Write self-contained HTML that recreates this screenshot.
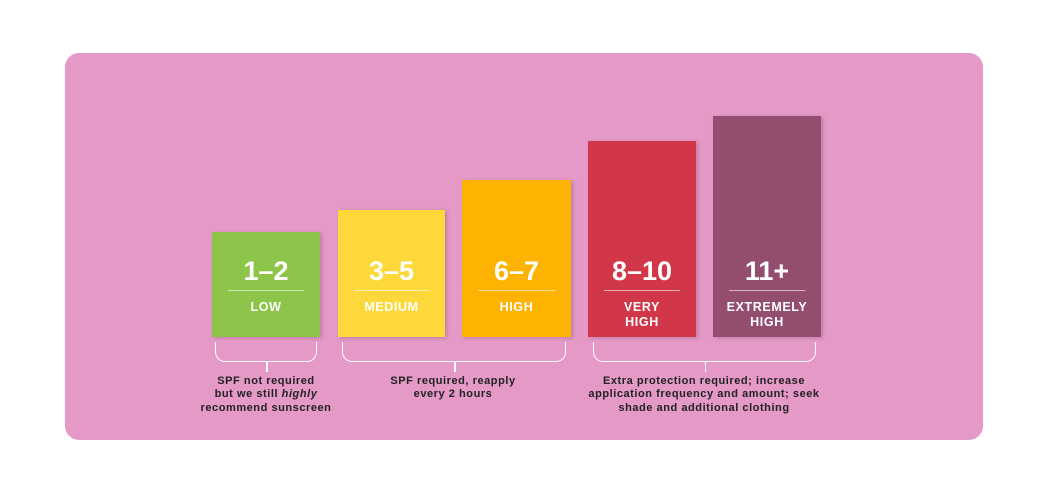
<!DOCTYPE html><html><head><style>
body{margin:0;width:1048px;height:492px;background:#fff;position:relative;font-family:"Liberation Sans",sans-serif;overflow:hidden}
.card{position:absolute;left:65px;top:53px;width:918px;height:387px;background:#e599c7;border-radius:14px}
.bar{position:absolute;color:#fff;text-align:center;font-weight:bold;box-shadow:2px 1px 4px rgba(0,0,0,.18)}
.num{position:absolute;left:0;right:0;font-size:27px;top:0}
.ln{position:absolute;left:16px;right:16px;height:1px;background:rgba(255,255,255,.6)}
.lab{position:absolute;left:0;right:0;font-size:12.5px;line-height:15px;letter-spacing:0.6px}
.br{position:absolute;top:342px;height:19px;border:1.5px solid #fff;border-top:none;border-radius:0 0 10px 10px}
.br:after{content:"";position:absolute;left:50%;top:19px;width:1.5px;height:11px;background:#fff}
.t{position:absolute;text-align:center;font-size:11px;font-weight:bold;line-height:13.3px;color:#222;letter-spacing:0.55px}
</style></head><body>
<div class="card"></div>
<div class="bar" style="left:212px;width:108px;top:232px;height:105px;background:#8dc44a"><div class="num" style="top:24px">1–2</div><div class="ln" style="top:58px"></div><div class="lab" style="top:68px">LOW</div></div>
<div class="bar" style="left:338px;width:107px;top:210px;height:127px;background:#fdd83a"><div class="num" style="top:46px">3–5</div><div class="ln" style="top:80px"></div><div class="lab" style="top:90px">MEDIUM</div></div>
<div class="bar" style="left:462px;width:109px;top:180px;height:157px;background:#feb201"><div class="num" style="top:76px">6–7</div><div class="ln" style="top:110px"></div><div class="lab" style="top:120px">HIGH</div></div>
<div class="bar" style="left:588px;width:108px;top:141px;height:196px;background:#d13649"><div class="num" style="top:115px">8–10</div><div class="ln" style="top:149px"></div><div class="lab" style="top:159px">VERY<br>HIGH</div></div>
<div class="bar" style="left:713px;width:108px;top:116px;height:221px;background:#934d6e"><div class="num" style="top:140px">11+</div><div class="ln" style="top:174px"></div><div class="lab" style="top:184px">EXTREMELY<br>HIGH</div></div>
<div class="br" style="left:215px;width:100px"></div>
<div class="br" style="left:342px;width:222px"></div>
<div class="br" style="left:593px;width:221px"></div>
<div class="t" style="left:176px;width:180px;top:375px">SPF not required<br>but we still <i>highly</i><br>recommend sunscreen</div>
<div class="t" style="left:363px;width:180px;top:375px">SPF required, reapply<br>every 2 hours</div>
<div class="t" style="left:564px;width:280px;top:375px">Extra protection required; increase<br>application frequency and amount; seek<br>shade and additional clothing</div>
</body></html>
